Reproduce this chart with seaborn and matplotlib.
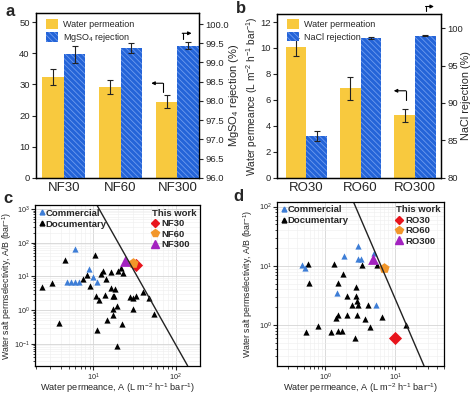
import matplotlib
matplotlib.use('Agg')
import pandas as pd
import seaborn as sns
from matplotlib import pyplot as plt
from matplotlib.lines import Line2D
from matplotlib.patches import Patch

# ---- bar data (a: NF, b: RO) ----
nf_names = ['NF30', 'NF60', 'NF300']
nf_perm = [32.4, 29.3, 24.5]
nf_perm_err = [2.5, 2.3, 2.2]
nf_rej = [99.21, 99.37, 99.44]
nf_rej_err = [0.22, 0.13, 0.09]

ro_names = ['RO30', 'RO60', 'RO300']
ro_perm = [10.1, 6.9, 4.83]
ro_perm_err = [0.7, 0.9, 0.5]
ro_rej = [85.6, 98.7, 99.0]
ro_rej_err = [0.7, 0.15, 0.08]

# ---- scatter data (c: NF, d: RO) ----
comm_c_A = [5.98, 8.9, 10.0, 11.0, 4.74, 5.3, 5.93, 6.64]
comm_c_sel = [66, 16.4, 9.8, 7.0, 6.7, 6.7, 6.7, 6.7]
doc_c_A = [2.4, 3.15, 4.53, 3.83, 7.57, 8.45, 9.1, 10.6, 10.8, 11.7, 12.3, 13.2,
           13.7, 14.1, 11.2, 14.8, 16.6, 16.6, 17.2, 17.9, 18.5, 17.5, 17.5, 19.5,
           19.2, 22.1, 20.1, 21.5, 22.7, 27.9, 30.6, 33.0, 30.0, 40.4, 47.9, 54.6]
doc_c_sel = [4.98, 6.37, 30, 0.42, 8.4, 11.2, 5.1, 43, 2.7, 2.0, 11.7, 14.3,
             2.9, 8.4, 0.255, 0.525, 13.1, 4.45, 2.7, 2.7, 4.25, 1.05, 0.73, 1.29,
             0.0865, 0.38, 14.7, 18.4, 12.5, 2.42, 2.26, 2.7, 1.1, 3.55, 2.26, 0.79]
work_c_A = [33.0, 30.0, 24.3]
work_c_sel = [21.5, 25.7, 28.8]
bound_c_A = [10.19, 140]
bound_c_sel = [1854, 0.0224]

comm_d_A = [0.474, 0.513, 1.87, 2.96, 2.93, 3.23, 1.48, 5.35, 5.0]
comm_d_sel = [10.3, 9.3, 14.7, 21.5, 13.2, 13.2, 3.46, 2.21, 16.3]
doc_d_A = [0.578, 0.597, 0.535, 0.803, 1.22, 1.53, 1.75, 1.36, 1.83, 1.53, 1.42,
           1.52, 2.04, 2.08, 2.77, 2.74, 2.9, 3.0, 2.46, 4.07, 2.83, 3.73, 4.39,
           6.45, 2.71, 3.38, 5.47, 14.5]
doc_d_sel = [10.9, 5.08, 0.755, 0.975, 0.755, 0.794, 0.794, 10.9, 7.17, 5.08, 1.34,
             1.47, 1.47, 3.08, 4.47, 3.08, 2.58, 2.15, 2.15, 2.15, 1.47, 1.26, 0.926,
             1.36, 0.615, 10.3, 10.3, 1.0]
work_d_A = [10.0, 6.96, 4.8]
work_d_sel = [0.6, 9.26, 12.9]
bound_d_A = [2.48, 25.9]
bound_d_sel = [129, 0.207]

YELLOW = '#F8C93E'
BLUE = '#2464D8'
HATCH_EDGE = '#6E9BEE'
COMM = '#3D7DD6'
WORK_COLORS = ['#E8141C', '#F2962A', '#A322C0']
WORK_MARKERS = ['D', 'p', '^']

sns.set_theme(style='ticks')
plt.rcParams['font.family'] = ['Liberation Sans', 'DejaVu Sans']
plt.rcParams['mathtext.fontset'] = 'custom'
plt.rcParams['mathtext.rm'] = 'Liberation Sans'
plt.rcParams['mathtext.it'] = 'Liberation Sans:italic'
plt.rcParams['mathtext.bf'] = 'Liberation Sans:bold'
plt.rcParams['mathtext.default'] = 'regular'
plt.rcParams['axes.linewidth'] = 0.9
plt.rcParams['hatch.linewidth'] = 0.6
plt.rcParams['axes.edgecolor'] = 'black'

fig = plt.figure(figsize=(4.74, 3.95), dpi=100)
ax_a = fig.add_axes([0.0759, 0.5501, 0.3439, 0.4162])
ax_b = fig.add_axes([0.5844, 0.5501, 0.3460, 0.4145])
ax_c = fig.add_axes([0.0738, 0.0734, 0.3481, 0.4077])
ax_d = fig.add_axes([0.5844, 0.0734, 0.3523, 0.4160])

ARROW = dict(arrowstyle='-|>', color='black', lw=0.8, mutation_scale=5, shrinkA=0, shrinkB=0)


def draw_bars(ax, names, perm, perm_err, rej, rej_err, rej_label, lims, rej_size, rej_x):
    order = ['Water permeation', rej_label]
    df_perm = pd.DataFrame({'membrane': names, 'value': perm, 'series': order[0]})
    df_rej = pd.DataFrame({'membrane': names, 'value': rej, 'series': order[1]})
    ax2 = ax.twinx()
    sns.barplot(data=df_perm, x='membrane', y='value', hue='series', hue_order=order,
                palette=[YELLOW, BLUE], width=0.76, dodge=True, errorbar=None,
                legend=False, saturation=1, linewidth=0, ax=ax)
    sns.barplot(data=df_rej, x='membrane', y='value', hue='series', hue_order=order,
                palette=[YELLOW, BLUE], width=0.76, dodge=True, errorbar=None,
                legend=False, saturation=1, linewidth=0, ax=ax2)
    for p in ax2.patches:
        p.set_hatch('\\\\\\\\\\\\')
        p.set_edgecolor(HATCH_EDGE)
        p.set_linewidth(0)

    xc = sorted(p.get_x() + p.get_width() / 2 for p in ax.patches)
    ax.errorbar(xc, perm, yerr=perm_err, fmt='none', ecolor='#222222',
                elinewidth=0.8, capsize=2, capthick=0.8)
    xc2 = sorted(p.get_x() + p.get_width() / 2 for p in ax2.patches)
    ax2.errorbar(xc2, rej, yerr=rej_err, fmt='none', ecolor='#222222',
                 elinewidth=0.8, capsize=2, capthick=0.8)

    ax.set_xlim(lims[0])
    ax.set_ylim(lims[1])
    ax2.set_ylim(lims[2])
    ax.set_xlabel('')
    ax.set_ylabel('')
    ax2.set_ylabel(rej_label.replace('MgSO4', 'MgSO$_4$') + ' (%)', fontsize=rej_size)
    ax2.yaxis.set_label_coords(rej_x, 0.5)
    ax.tick_params(axis='x', labelsize=9.5, length=0, pad=3)
    ax.tick_params(axis='y', labelsize=6.8, length=3, width=0.8, pad=1.5)
    ax2.tick_params(axis='y', labelsize=6.8, length=3, width=0.8, pad=1.5)
    for s in list(ax.spines.values()) + list(ax2.spines.values()):
        s.set_visible(True)

    handles = [Patch(facecolor=YELLOW, edgecolor='none'),
               Patch(facecolor=BLUE, edgecolor=HATCH_EDGE, hatch='\\\\\\\\\\\\', linewidth=0)]
    labels = ['Water permeation', rej_label.replace('MgSO4', 'MgSO$_4$')]
    ax.legend(handles, labels, loc='upper left', bbox_to_anchor=(0.03, 1.0),
              frameon=False, fontsize=6.5, handlelength=1.3, handleheight=1.3,
              handletextpad=0.6, labelspacing=0.25, borderaxespad=0.2)
    return ax2


# panel a
ax_a2 = draw_bars(ax_a, nf_names, nf_perm, nf_perm_err, nf_rej, nf_rej_err,
                  'MgSO4 rejection', [(-0.49, 2.38), (0, 52.9), (96, 100.28)], 8.0, 1.17)
ax_a.set_yticks(range(0, 51, 10))
ax_a2.set_yticks([96 + 0.5 * i for i in range(9)])
ax_a2.yaxis.set_major_formatter(plt.FormatStrFormatter('%.1f'))
ax_a.plot([1.74, 1.74], [27.7, 30.4], color='black', lw=0.8)
ax_a.annotate('', xy=(1.54, 30.4), xytext=(1.745, 30.4), arrowprops=ARROW)
ax_a2.plot([2.09, 2.09], [99.6, 99.76], color='black', lw=0.8)
ax_a2.annotate('', xy=(2.25, 99.76), xytext=(2.085, 99.76), arrowprops=ARROW)

# panel b
ax_b2 = draw_bars(ax_b, ro_names, ro_perm, ro_perm_err, ro_rej, ro_rej_err,
                  'NaCl rejection', [(-0.54, 2.48), (0, 12.62), (80, 101.9)], 7.8, 1.12)
ax_b.set_yticks(range(0, 13, 2))
ax_b2.set_yticks(range(80, 101, 5))
ax_b.set_ylabel('Water permeance (L m$^{-2}$ h$^{-1}$ bar$^{-1}$)', fontsize=7.3)
ax_b.yaxis.set_label_coords(-0.105, 0.5)
ax_b.plot([1.83, 1.83], [6.0, 6.7], color='black', lw=0.8)
ax_b.annotate('', xy=(1.61, 6.7), xytext=(1.835, 6.7), arrowprops=ARROW)
ax_b2.plot([2.2, 2.2], [102.33, 102.9], color='black', lw=0.8, clip_on=False)
ax_b2.annotate('', xy=(2.35, 102.9), xytext=(2.195, 102.9), annotation_clip=False,
               arrowprops=ARROW)


def draw_scatter(ax, comm_A, comm_sel, doc_A, doc_sel, work_A, work_sel,
                 bound_A, bound_sel, work_names, xlim, ylim, label_xy):
    ax.set_xscale('log')
    ax.set_yscale('log')
    ax.grid(True, which='major', color='#d4d4d4', lw=0.6)
    ax.grid(True, which='minor', color='#eeeeee', lw=0.4)
    ax.set_axisbelow(True)
    sns.lineplot(x=bound_A, y=bound_sel, color='#222222', lw=1.0, ax=ax)
    sns.scatterplot(x=doc_A, y=doc_sel, marker='^', color='black', s=20,
                    linewidth=0, legend=False, ax=ax)
    sns.scatterplot(x=comm_A, y=comm_sel, marker='^', color=COMM, s=20,
                    linewidth=0, legend=False, ax=ax)
    for a, s, c, m in zip(work_A, work_sel, WORK_COLORS, WORK_MARKERS):
        sns.scatterplot(x=[a], y=[s], marker=m, color=c, s=45 if m == 'D' else 60,
                        linewidth=0, legend=False, ax=ax)
    ax.set_xlim(xlim)
    ax.set_ylim(ylim)
    ax.set_xlabel('Water permeance, A (L m$^{-2}$ h$^{-1}$ bar$^{-1}$)', fontsize=6.6)
    ax.set_ylabel('Water salt permselectivity, A/B (bar$^{-1}$)', fontsize=6.3)
    ax.xaxis.set_label_coords(0.5, label_xy[1])
    ax.yaxis.set_label_coords(label_xy[0], 0.5)
    ax.tick_params(which='major', labelsize=5.2, length=3, width=0.8, pad=0.8)
    ax.tick_params(which='minor', length=1.8, width=0.6)

    bold = {'weight': 'bold', 'size': 6.8}
    h1 = [Line2D([], [], ls='', marker='^', color=COMM, markersize=3.5),
          Line2D([], [], ls='', marker='^', color='black', markersize=3.5)]
    leg1 = ax.legend(h1, ['Commercial', 'Documentary'], loc='upper left', prop=bold,
                     frameon=False, handlelength=0.6, handletextpad=0.1,
                     labelspacing=0.2, borderaxespad=0.2, borderpad=0.2)
    ax.add_artist(leg1)
    h2 = [Line2D([], [], ls='', marker=m, color=c, markersize=4.5 if m == 'D' else 5.5)
          for c, m in zip(WORK_COLORS, WORK_MARKERS)]
    ax.legend(h2, work_names, loc='upper right', prop=bold, title='This work',
              title_fontproperties=bold, frameon=False, handlelength=0.8,
              handletextpad=0.2, labelspacing=0.15, borderaxespad=0.2, borderpad=0.2,
              alignment='left')


draw_scatter(ax_c, comm_c_A, comm_c_sel, doc_c_A, doc_c_sel, work_c_A, work_c_sel,
             bound_c_A, bound_c_sel, nf_names, (1.95, 198), (0.022, 1320), (-0.13, -0.095))
draw_scatter(ax_d, comm_d_A, comm_d_sel, doc_d_A, doc_d_sel, work_d_A, work_d_sel,
             bound_d_A, bound_d_sel, ro_names, (0.206, 50), (0.205, 121), (-0.13, -0.093))

for txt, x, y in [('a', 0.012, 0.972), ('b', 0.497, 0.978), ('c', 0.008, 0.497), ('d', 0.492, 0.502)]:
    fig.text(x, y, txt, fontsize=12, fontweight='bold', ha='left', va='center')

fig.savefig('out.png', dpi=100)
